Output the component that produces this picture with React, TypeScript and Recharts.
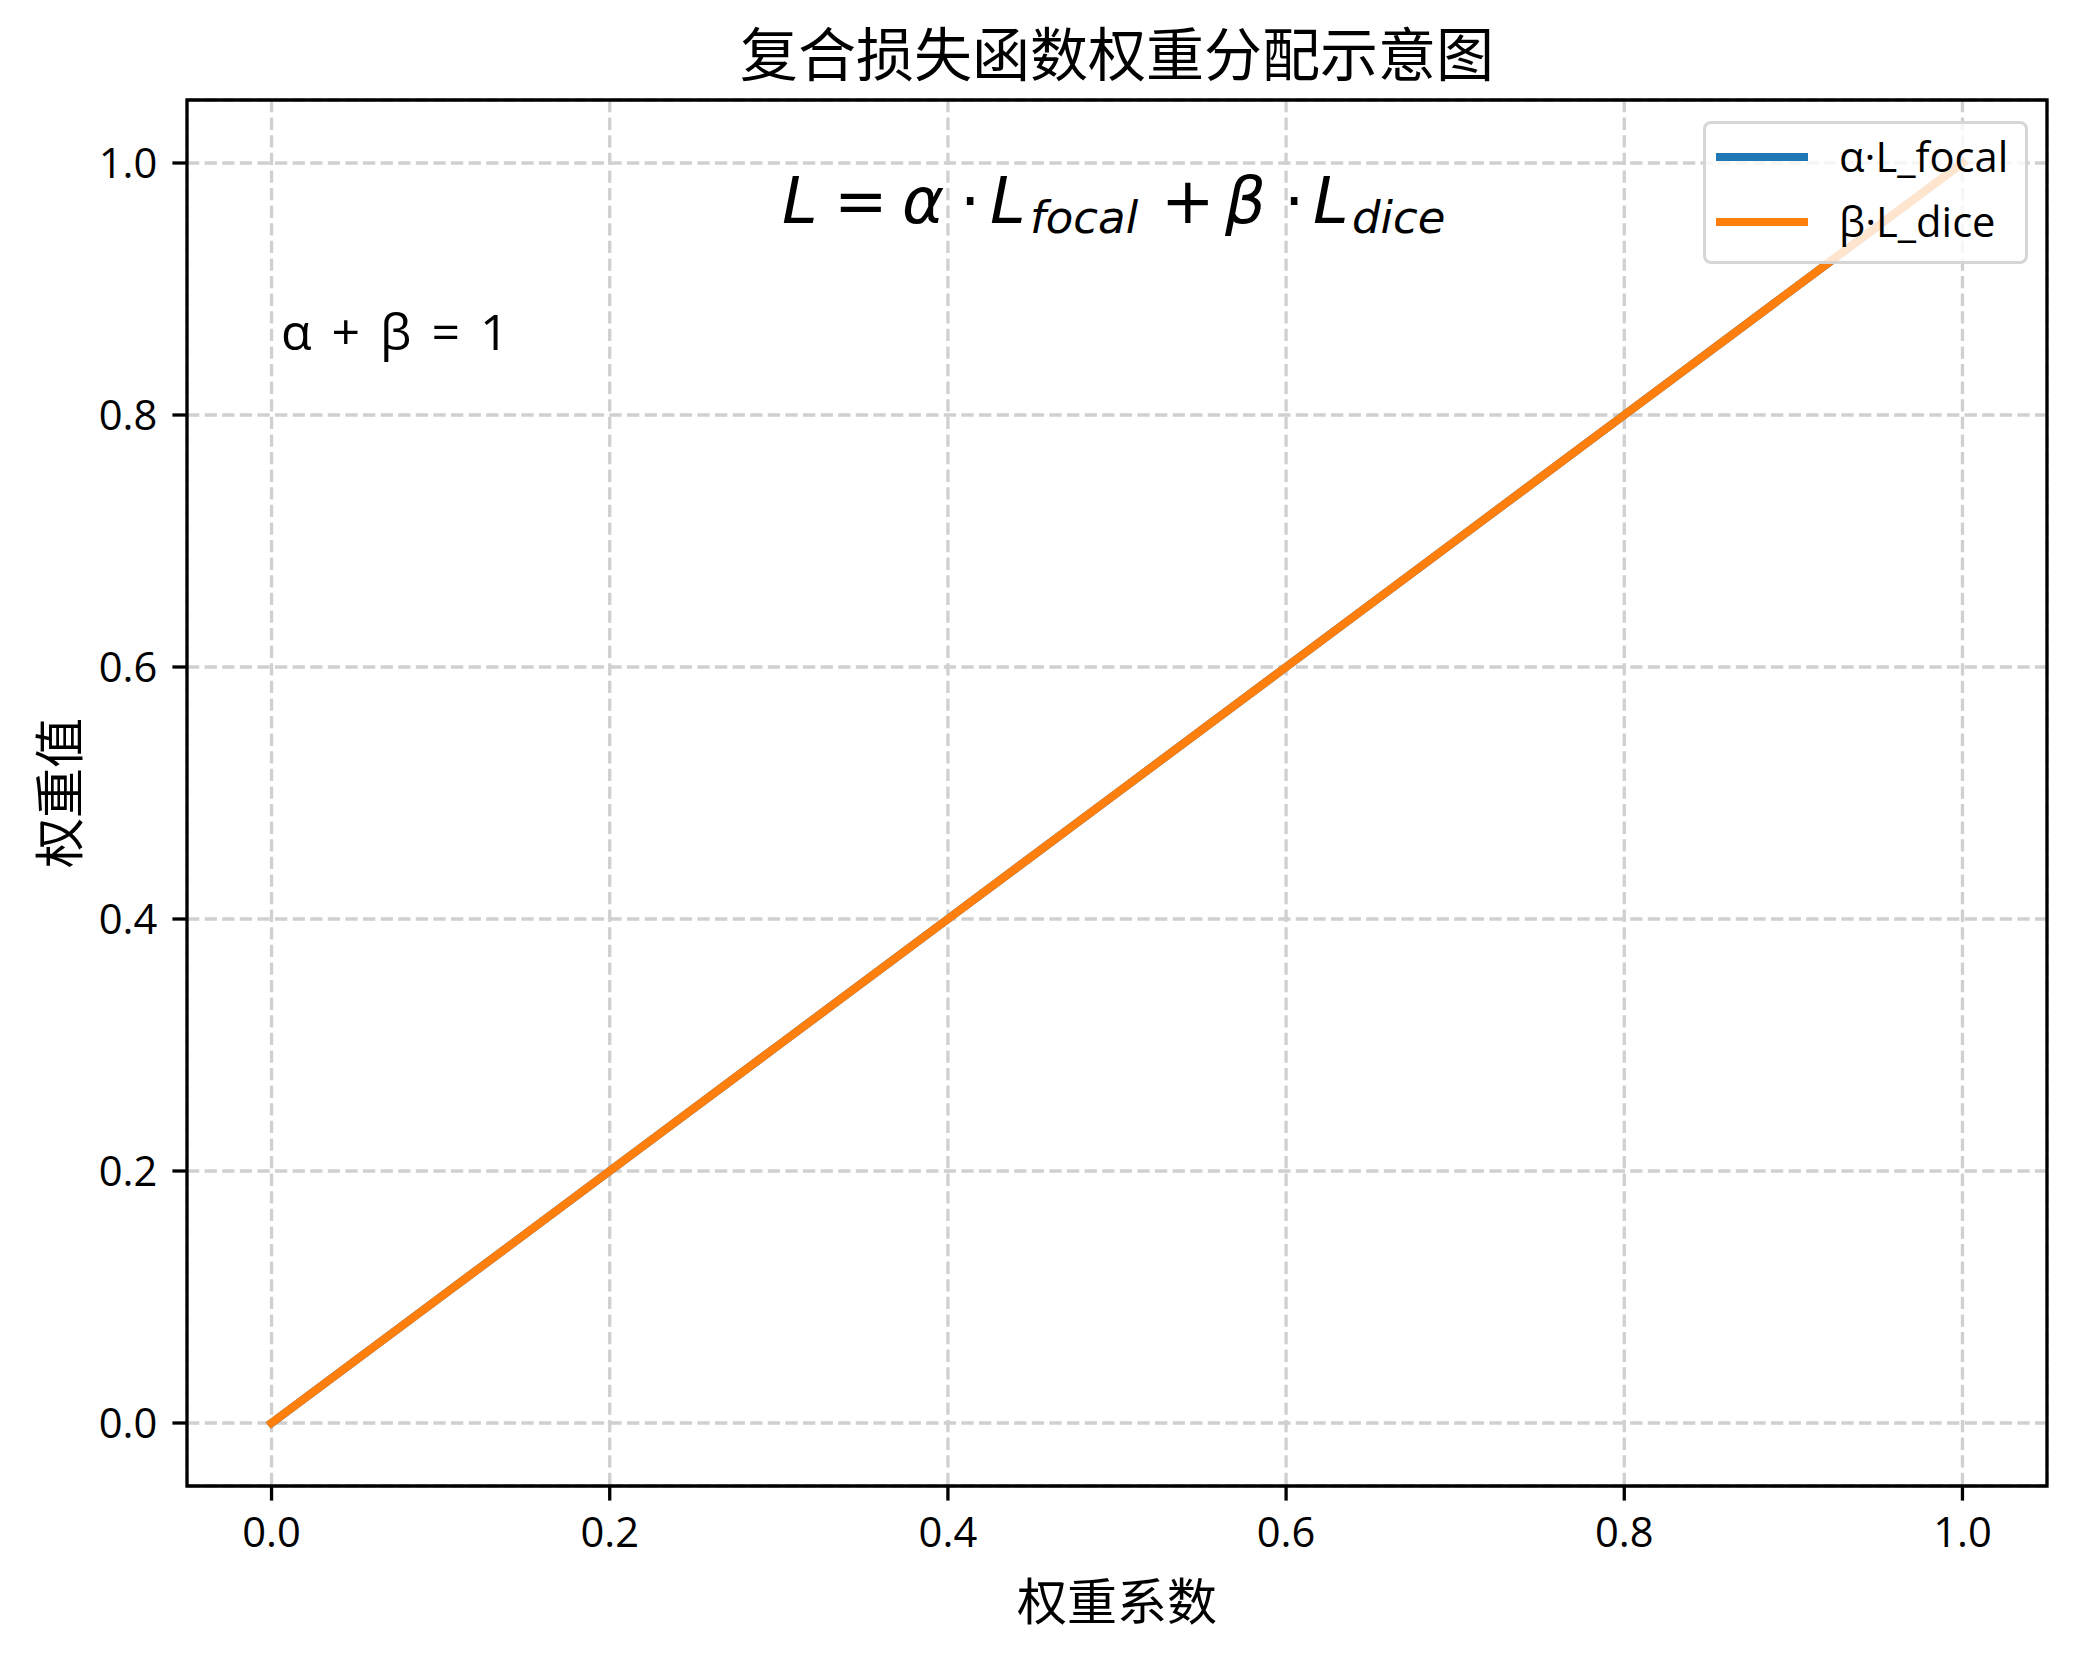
import React from "react";
import { LineChart, Line, XAxis, YAxis, CartesianGrid, Legend, ReferenceArea, Customized } from "recharts";

// weight coefficient on the x axis and the weight each loss term gets
const weightCoef = [0, 0.1, 0.2, 0.3, 0.4, 0.5, 0.6, 0.7, 0.8, 0.9, 1.0];
const focalWeight = [0, 0.1, 0.2, 0.3, 0.4, 0.5, 0.6, 0.7, 0.8, 0.9, 1.0];
const diceWeight = [0, 0.1, 0.2, 0.3, 0.4, 0.5, 0.6, 0.7, 0.8, 0.9, 1.0];
const tickValues = [0, 0.2, 0.4, 0.6, 0.8, 1.0];
const seriesNames = ["α·L_focal", "β·L_dice"];
const seriesColors = ["#1f77b4", "#ff7f0e"];
const chartTitle = "复合损失函数权重分配示意图";
const xLabel = "权重系数";
const yLabel = "权重值";
const noteText = "α + β = 1";

const data = weightCoef.map((x, i) => ({ x, focal: focalWeight[i], dice: diceWeight[i] }));

const W = 2077;
const H = 1658;
const PLOT = { left: 187, top: 100, right: 2047, bottom: 1486 };
const LATIN = "'Open Sans', 'Noto Sans CJK SC', sans-serif";
const CJK = "'Noto Sans CJK SC', sans-serif";
const MATH = "'DejaVu Sans', sans-serif";
const tickStyle = { fontSize: 41.7, fill: "#000", fontFamily: LATIN };

function LegendBox({ payload }: any) {
  return (
    <div
      style={{
        position: "relative",
        width: 325,
        height: 143,
        boxSizing: "border-box",
        border: "3px solid rgba(204,204,204,0.8)",
        borderRadius: 8,
        background: "rgba(255,255,255,0.8)",
      }}
    >
      {(payload || []).map((p: any, i: number) => (
        <React.Fragment key={p.value}>
          <div
            style={{
              position: "absolute",
              left: 10,
              top: 33 + 65 * i - 4,
              width: 92,
              height: 8.3,
              background: p.color,
            }}
          />
          <span
            style={{
              position: "absolute",
              left: 133,
              top: 10 + 65 * i,
              lineHeight: "44px",
              fontSize: 41.7,
              fontFamily: LATIN,
              color: "#000",
              whiteSpace: "nowrap",
            }}
          >
            {p.value}
          </span>
        </React.Fragment>
      ))}
    </div>
  );
}

function Overlay() {
  const cx = (PLOT.left + PLOT.right) / 2;
  const cy = (PLOT.top + PLOT.bottom) / 2;
  const base = 223;
  const sub = 233;
  return (
    <g>
      <text x={cx} y={76} textAnchor="middle" fontSize={58} fontFamily={CJK} fill="#000">
        {chartTitle}
      </text>
      <text x={cx} y={1620} textAnchor="middle" fontSize={50} fontFamily={CJK} fill="#000">
        {xLabel}
      </text>
      <text
        x={56}
        y={cy}
        textAnchor="middle"
        dominantBaseline="central"
        fontSize={50}
        fontFamily={CJK}
        fill="#000"
        transform={`rotate(-90 56 ${cy})`}
      >
        {yLabel}
      </text>
      <text x={281} y={350} fontSize={50} wordSpacing={7} fontFamily={LATIN} fill="#000">
        {noteText}
      </text>
      <g fontFamily={MATH} fontSize={64} fill="#000">
        <text x={782} y={base} fontStyle="italic">L</text>
        <text x={834} y={base}>=</text>
        <text x={902} y={base} fontStyle="italic">α</text>
        <text x={960} y={base}>·</text>
        <text x={990} y={base} fontStyle="italic">L</text>
        <text x={1030} y={sub} fontStyle="italic" fontSize={45}>focal</text>
        <text x={1161} y={base}>+</text>
        <text x={1225} y={base} fontStyle="italic">β</text>
        <text x={1284} y={base}>·</text>
        <text x={1313} y={base} fontStyle="italic">L</text>
        <text x={1352} y={sub} fontStyle="italic" fontSize={45}>dice</text>
      </g>
    </g>
  );
}

export default function App() {
  const yAxisWidth = 120;
  const xAxisHeight = 100;
  return (
    <div style={{ position: "absolute", left: 0, top: 0, width: W, height: H, background: "#fff" }}>
      <LineChart
        width={W}
        height={H}
        data={data}
        margin={{
          top: PLOT.top,
          right: W - PLOT.right,
          left: PLOT.left - yAxisWidth,
          bottom: H - PLOT.bottom - xAxisHeight,
        }}
      >
        <CartesianGrid stroke="#d0d0d0" strokeWidth={3.3} strokeDasharray="12.3 5.3" />
        <XAxis
          dataKey="x"
          type="number"
          domain={[-0.05, 1.05]}
          ticks={tickValues}
          tickFormatter={(v: number) => v.toFixed(1)}
          height={xAxisHeight}
          axisLine={false}
          tickLine={{ stroke: "#000", strokeWidth: 3.3 }}
          tickSize={14.6}
          tickMargin={17}
          tick={tickStyle}
          interval={0}
        />
        <YAxis
          type="number"
          domain={[-0.05, 1.05]}
          ticks={tickValues}
          tickFormatter={(v: number) => v.toFixed(1)}
          width={yAxisWidth}
          axisLine={false}
          tickLine={{ stroke: "#000", strokeWidth: 3.3 }}
          tickSize={14.6}
          tickMargin={15}
          tick={tickStyle}
          interval={0}
        />
        <ReferenceArea
          x1={-0.05}
          x2={1.05}
          y1={-0.05}
          y2={1.05}
          fill="none"
          fillOpacity={0}
          stroke="#000"
          strokeWidth={3.3}
          strokeOpacity={1}
        />
        <Line
          type="linear"
          dataKey="focal"
          name={seriesNames[0]}
          stroke={seriesColors[0]}
          strokeWidth={8.3}
          strokeLinecap="square"
          dot={false}
          activeDot={false}
          isAnimationActive={false}
        />
        <Line
          type="linear"
          dataKey="dice"
          name={seriesNames[1]}
          stroke={seriesColors[1]}
          strokeWidth={8.3}
          strokeLinecap="square"
          dot={false}
          activeDot={false}
          isAnimationActive={false}
        />
        <Legend
          layout="vertical"
          align="center"
          verticalAlign="middle"
          content={<LegendBox />}
          wrapperStyle={{ left: 1703, top: 121, width: 325, height: 143 }}
        />
        <Customized component={<Overlay />} />
      </LineChart>
    </div>
  );
}
